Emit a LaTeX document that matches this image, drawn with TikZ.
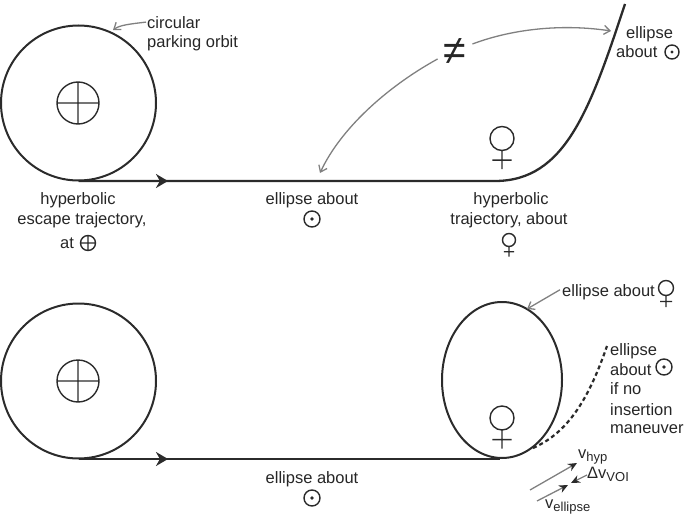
\documentclass[tikz,border=0pt]{standalone}
\usepackage{fontspec}
\setmainfont{Liberation Sans}
\usepackage{xcolor}
\usetikzlibrary{arrows.meta,calc}
\definecolor{orbit}{HTML}{2b2b2b}
\definecolor{callout}{HTML}{808080}
\definecolor{inktxt}{HTML}{262626}
\newcommand{\subtxt}[1]{\raisebox{-0.4ex}{\fontsize{13}{13}\selectfont #1}}
\tikzset{
  lbl/.style={inner sep=0pt,text=inktxt,anchor=base,font=\fontsize{16.5}{18}\selectfont},
  lblw/.style={lbl,anchor=base west},
  path1/.style={draw=orbit,line width=2pt},
  flight/.style={draw=orbit,line width=2.3pt},
  pointer/.style={draw=callout,line width=1.3pt,-{Straight Barb[length=6pt,width=9pt]}},
  speed/.style={draw=callout,line width=1.3pt,-{Stealth[length=9pt,width=8pt,color=orbit]}},
  symline/.style={draw=orbit,line width=1.4pt},
  earthsym/.pic={\draw[symline] (0,0) circle (1) (-1,0) -- (1,0) (0,-1) -- (0,1);},
  sunsym/.pic={\draw[symline] (0,0) circle (1); \fill[orbit] (0,0) circle (0.24);},
  venussym/.pic={\draw[symline] (0,0) circle (1) (0,1) -- (0,2.55) (-0.8,1.8) -- (0.8,1.8);}
}
\begin{document}
\begin{tikzpicture}[x=1pt,y=-1pt]
  \useasboundingbox (0,0) rectangle (685,519);
  % the two orbits round the earth
  \foreach \cy/\nm in {103/upper,381/lower}{
    \draw[path1] (78.5,\cy) circle (77.5);
    \pic[scale=21] (earth\nm) at (78,\cy) {earthsym};
    \coordinate (start\nm) at (78.5,\cy+78);
  }
  % flight paths
  \coordinate (pass) at (495,181);
  \coordinate (top) at (625,4);
  \coordinate (arrive) at (500,459);
  \draw[flight] (startupper) -- (pass) .. controls (565,181) and (590,110) .. (top);
  \draw[flight] (startlower) -- (arrive);
  \foreach \nm/\cy in {a/181,b/459}{
    \coordinate (tip\nm) at (168,\cy);
    \coordinate (back\nm) at (150,\cy);
    \draw[flight,-{Stealth[length=12pt,width=14pt,color=orbit]}] (back\nm) -- (tip\nm);
  }
  \draw[path1] (502,380) ellipse (60 and 78);
  \coordinate (dashA) at (533,448);
  \coordinate (dashB) at (607,346);
  \draw[draw=orbit,line width=2.2pt,dash pattern=on 4pt off 3pt] (dashA) .. controls (570,432) and (590,395) .. (dashB);
  % labels, one line at a time
  \foreach \name/\x/\y/\txt in {park1/147/29/circular, park2/147/48/parking orbit,
    sunA/626/38/ellipse, sunB/616/57/about,
    veB/562/296/ellipse about,
    noA/610/355/ellipse, noB/610/375/about, noC/610/394/if no, noD/610/415/insertion, noE/610/433/maneuver,
    atE/60/248/at}{
    \node[lblw] (\name) at (\x,\y) {\txt};
  }
  \foreach \name/\x/\y/\txt in {hyp1/78/204/hyperbolic, hyp2/82/224/{escape trajectory,},
    ell1/312/204/ellipse about, ell2/312/483/ellipse about,
    hv1/511/204/hyperbolic, hv2/509/224/{trajectory, about}}{
    \node[lbl] (\name) at (\x,\y) {\txt};
  }
  \node[lbl,anchor=center,font=\fontsize{41}{41}\selectfont] (neq) at (455,52) {≠};
  % symbols beside the labels
  \pic[scale=7.5] (earthB) at (88,243) {earthsym};
  \foreach \nm/\x/\y/\r in {a/312/219/8,b/672/52/7,c/664/367/8,d/312/498/8}{
    \pic[scale=\r] (sun\nm) at (\x,\y) {sunsym};
  }
  \pic[scale=12] (venA) at (502,138.5) {venussym};
  \pic[scale=12] (venB) at (502,418) {venussym};
  \pic[scale=6.5] (venC) at (509,240) {venussym};
  \pic[scale=7.5] (venD) at (666,288) {venussym};
  % pointers
  \coordinate (parkend) at (113,30);
  \coordinate (hypend) at (611,31);
  \coordinate (ellend) at (320,173);
  \coordinate (vepoint) at (527,309);
  \draw[pointer] ($(park1.west)+(-1,-1)$) .. controls (130,24) and (120,25) .. (parkend);
  \draw[pointer] ($(neq.east)+(6,-8)$) .. controls (515,28) and (565,24) .. (hypend);
  \draw[pointer] ($(neq.west)+(-6,7)$) .. controls (385,88) and (340,130) .. (ellend);
  \draw[pointer] ($(veB.west)+(-2,-2)$) -- (vepoint);
  % velocity triangle
  \node[lblw] (vhyp) at (578,458) {v\subtxt{hyp}};
  \node[lblw] (dvoi) at (587,478) {Δv\subtxt{VOI}};
  \node[lblw] (vell) at (545,508) {v\subtxt{ellipse}};
  \coordinate (hypA) at (530,490);
  \coordinate (hypB) at (577,463);
  \coordinate (ellA) at (537,501);
  \coordinate (ellB) at (568,485);
  \coordinate (dvA) at (587,475);
  \coordinate (dvB) at (571,483);
  \draw[speed] (hypA) -- (hypB);
  \draw[speed] (ellA) -- (ellB);
  \draw[speed] (dvA) -- (dvB);
\end{tikzpicture}
\end{document}
